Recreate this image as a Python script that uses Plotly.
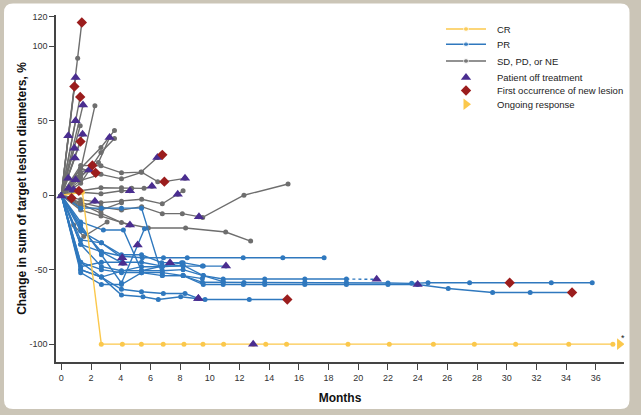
import plotly.graph_objects as go

# ---------------- data (months, % change) ----------------
cr_months = [0, 1.42, 2.69, 4.11, 5.39, 6.86, 8.26, 9.54, 10.93, 12.92, 13.77, 15.17,
             19.31, 22.09, 25.06, 27.82, 30.6, 34.18, 37.15]
cr_values = [0, 2, -100, -100, -100, -100, -100, -100, -100, -100, -100, -100,
             -100, -100, -100, -100, -100, -100, -100]
cr_off_idx = 9
ongoing_months = [37.6]
ongoing_values = [-100]

pr_months = [
    [0, 1.3, 2.7, 4.05, 5.4, 6.8, 8.2, 9.5, 10.9, 12.3, 13.7, 16.4, 19.2, 22.0, 23.6, 24.7, 27.5, 30.2, 33.0, 35.76],
    [0, 1.3, 2.7, 4.05, 5.4, 6.8, 8.2, 9.56, 10.9, 12.26, 13.7, 16.4, 19.2, 22.0, 24.0, 26.06, 29.05, 31.58, 34.4],
    [0, 1.3, 2.7, 4.05, 5.4, 6.8, 8.2, 9.56, 10.9, 13.7, 16.4, 19.2],
    [0, 1.3, 2.7, 4.1, 5.45, 6.88, 8.48, 12.25, 14.92, 17.7],
    [0, 1.3, 2.7, 4.15],
    [0, 1.3, 2.7, 4.1],
    [0, 1.3, 2.7, 4.05, 5.4, 6.8, 8.2, 9.56, 11.09],
    [0, 1.3, 2.7, 4.05, 5.4, 6.76, 7.32, 8.1],
    [0, 1.3, 2.7, 4.05, 5.5, 6.53, 8.04, 9.23, 9.68, 12.66, 15.22],
    [0, 1.3, 2.7, 4.05, 5.4, 6.87, 8.33, 9.23],
    [0, 1.3, 2.7, 4.05, 5.14, 5.6],
    [0, 1.3, 2.83, 4.18, 5.4, 6.8, 8.2, 9.56, 10.9],
    [0, 1.3, 2.7, 4.05, 5.4, 6.8, 8.2, 9.5],
    [0, 1.3, 2.7, 4.05, 5.4, 6.8, 8.2, 9.5],
]
pr_values = [
    [0, -8.7, -8.7, -8.7, -8.7, -54, -54, -58.5, -58.5, -58.7, -58.7, -58.7, -58.7, -59, -59.2, -58.8, -58.8, -58.8, -58.8, -58.8],
    [0, -45, -50, -52, -52, -54, -54, -60, -60, -60, -60, -60, -60, -60, -60, -62.6, -65.3, -65.3, -65.3],
    [0, -50, -55, -51, -48, -48, -47, -54, -56.3, -56.3, -56.3, -56.3],
    [0, -33, -38, -41, -42, -42, -42, -42, -42, -42],
    [0, -22, -38, -45.7],
    [0, -30, -32, -42],
    [0, -48, -45, -45, -45, -47.6, -47.6, -47.6, -47.6],
    [0, -24, -32, -40, -40, -45.3, -45.3, -45.3],
    [0, -45, -55, -67, -68.2, -70, -68.2, -69.3, -70, -70, -70],
    [0, -50, -55, -63.2, -64.8, -66, -66, -69.3],
    [0, -20, -40, -59, -33.5, -22.5],
    [0, -18, -23.4, -23.4, -50.7, -50.7, -50, -54, -58],
    [0, -52, -60, -60, -52, -52, -54, -56],
    [0, -33, -48, -50.7, -50.7, -47.6, -45.3, -47.6],
]
pr_off_idx = [None, 14, None, None, 3, 3, 8, 6, 7, 7, 4, None, None, None]
pr_lesion_idx = [17, 18, None, None, None, None, None, None, 10, None, None, None, None, None]
# unconfirmed follow-up (dotted) for one PR patient
pr_dotted_months = [19.2, 21.24]
pr_dotted_values = [-56.3, -56.5]

sd_months = [
    [0, 1.1, 1.38], [0, 0.96], [0, 0.88], [0, 1.27], [0, 1.46], [0, 1.25, 2.26],
    [0, 0.96], [0, 1.27], [0, 0.47], [0, 1.43], [0, 1.29], [0, 0.88], [0, 0.91],
    [0, 1.3, 2.67, 3.58], [0, 1.3, 2.67, 3.58], [0, 1.3, 2.5, 3.25],
    [0, 1.3, 2.09], [0, 1.3, 2.31], [0, 1.1, 1.87],
    [0, 1.3, 2.67, 4.05, 5.37, 6.47, 6.8],
    [0, 1.3, 2.67, 4.05, 5.41, 6.49, 6.94, 8.33],
    [0, 1.3, 2.67, 4.05, 4.74, 5.57, 6.1],
    [0, 1.3, 2.67, 4.05, 4.62],
    [0, 1.3, 2.67, 4.05, 5.41, 6.8, 7.84, 8.2],
    [0, 1.3, 2.67, 4.05, 5.41, 6.8, 8.15, 9.27, 9.52, 12.3, 15.27],
    [0, 1.3, 2.67, 4.05, 5.86, 8.37, 11.07, 12.75],
    [0, 1.3, 2.67, 4.62],
    [0, 0.83, 1.51, 3.08],
    [0, 1.3, 2.26], [0, 0.69], [0, 0.47], [0, 0.5], [0, 0.83], [0, 0.96], [0, 1.18],
    [0, 1.3, 2.67, 4.05],
]
sd_values = [
    [0, 92, 116], [0, 79], [0, 73], [0, 66], [0, 60.5], [0, 15, 60],
    [0, 50], [0, 46.6], [0, 40], [0, 41], [0, 36], [0, 31.6], [0, 25],
    [0, 18, 32, 43.5], [0, 8, 28.7, 38], [0, 15, 22, 38.8],
    [0, 12, 20], [0, 18, 15], [0, 12, 17],
    [0, 20, 19.7, 15, 15.5, 25.3, 27.1],
    [0, 10, 14, 11, 15.4, 9.1, 9.1, 11.3],
    [0, 3, 5, 5, 4.6, 4.6, 6],
    [0, 2, 1, 3, 3],
    [0, -3, -5, -4, -2.7, -5.8, 0.7, 3],
    [0, -5, -8, -10, -7.7, -12.4, -12.4, -14.4, -14.9, 0, 7.5],
    [0, -6, -12, -18.4, -22, -22, -24.7, -30.8],
    [0, -10, -14, -20],
    [0, -20, -27.8, -18],
    [0, -8, -4], [0, -2], [0, 11.4], [0, 4.7], [0, 3.6], [0, 10.3], [0, 2.9],
    [0, -7, -10, -5],
]
sd_off_idx = [None, 1, None, None, 1, None, 1, None, 1, 1, None, 1, 1,
              None, None, 3, None, None, 2, 5, 7, 6, 4, 6, 7, None, 3, None,
              2, None, 1, 1, 1, 1, None, None]
sd_lesion_idx = [2, None, 1, 1, None, None, None, None, None, None, 1, None, None,
                 None, None, None, 2, 2, None, 6, 6, None, None, None, None, None, None, None,
                 None, 1, None, None, None, None, 1, None]
origin_off_months = [0]
origin_off_values = [-0.5]

ref_lines = [20, 0, -30]
x_ticks = list(range(0, 37, 2))
y_ticks = [120, 100, 50, 0, -50, -100]

legend_labels = ["CR", "PR", "SD, PD, or NE", "Patient off treatment",
                 "First occurrence of new lesion", "Ongoing response"]

# ---------------- style ----------------
C_CR = "#fbc84c"
C_PR = "#2f78be"
C_SD = "#6e6e6e"
C_OFF = "#4a2d90"
C_LES = "#9b1d1d"
FONT = "Liberation Sans, Arial, sans-serif"

W, H = 641, 415
ml, mr, mt, mb = 56, 17, 15, 53
pw, ph = W - ml - mr, H - mt - mb

fig = go.Figure()

def add_lines(months, values, color):
    for m, v in zip(months, values):
        fig.add_trace(go.Scatter(
            x=m, y=v, mode="lines+markers",
            line=dict(color=color, width=1.4),
            marker=dict(color=color, size=5),
            showlegend=False, hoverinfo="skip"))

add_lines(sd_months, sd_values, C_SD)
add_lines(pr_months, pr_values, C_PR)
fig.add_trace(go.Scatter(x=pr_dotted_months, y=pr_dotted_values, mode="lines",
                         line=dict(color=C_PR, width=1.4, dash="dot"),
                         showlegend=False, hoverinfo="skip"))
add_lines([cr_months], [cr_values], C_CR)

# event markers collected from the series
off_x, off_y, les_x, les_y = list(origin_off_months), list(origin_off_values), [], []
for months, values, offs, less in ((sd_months, sd_values, sd_off_idx, sd_lesion_idx),
                                   (pr_months, pr_values, pr_off_idx, pr_lesion_idx)):
    for m, v, o, l in zip(months, values, offs, less):
        if o is not None:
            off_x.append(m[o]); off_y.append(v[o])
        if l is not None:
            les_x.append(m[l]); les_y.append(v[l])
off_x.append(cr_months[cr_off_idx]); off_y.append(cr_values[cr_off_idx])
off_x.append(pr_dotted_months[-1]); off_y.append(pr_dotted_values[-1])

MK_OFF = dict(symbol="triangle-up", size=9, color=C_OFF)
MK_LES = dict(symbol="diamond", size=8, color=C_LES)
MK_ONG = dict(symbol="triangle-right", size=10, color=C_CR)

fig.add_trace(go.Scatter(x=off_x, y=off_y, mode="markers", marker=MK_OFF,
                         showlegend=False, hoverinfo="skip"))
fig.add_trace(go.Scatter(x=les_x, y=les_y, mode="markers", marker=MK_LES,
                         showlegend=False, hoverinfo="skip"))
fig.add_trace(go.Scatter(x=ongoing_months, y=ongoing_values, mode="markers", marker=MK_ONG,
                         showlegend=False, hoverinfo="skip"))

for r in ref_lines:
    fig.add_hline(y=r, line=dict(color="#555555", width=1.3,
                                 dash="solid" if r == 0 else "8px,5px"), layer="below")

fig.add_annotation(x=ongoing_months[0] + 0.2, y=ongoing_values[0] + 4, text="*",
                   showarrow=False, font=dict(size=9, color="#222", family=FONT))

# ---- legend drawn on a pixel-scaled overlay axis ----
leg_rows = [29, 44.3, 61, 77.5, 90.5, 104.3]
leg_x0, leg_x1, leg_xm, leg_tx = 446, 486, 466, 495
for color, yy in zip([C_CR, C_PR, C_SD], leg_rows[:3]):
    fig.add_trace(go.Scatter(x=[leg_x0, leg_xm, leg_x1], y=[yy, yy, yy], xaxis="x2", yaxis="y2",
                             mode="lines+markers", line=dict(color=color, width=1.4),
                             marker=dict(color=color, size=[0, 5, 0]),
                             showlegend=False, hoverinfo="skip"))
for mk, yy in zip([MK_OFF, MK_LES, MK_ONG], leg_rows[3:]):
    fig.add_trace(go.Scatter(x=[leg_xm], y=[yy], xaxis="x2", yaxis="y2", mode="markers",
                             marker=mk, showlegend=False, hoverinfo="skip"))
for lab, yy in zip(legend_labels, leg_rows):
    fig.add_annotation(x=leg_tx, y=yy, xref="x2", yref="y2", text=lab, showarrow=False,
                       xanchor="left", yanchor="middle",
                       font=dict(size=9.5, family=FONT, color="#222"))

# white rounded panel on taupe frame
def px(xp): return (xp - ml) / pw
def py(yp): return (H - mb - yp) / ph
x0, x1, y0, y1 = px(4), px(629.5), py(409), py(3.5)
rx, ry = 9 / pw, 9 / ph
path = (f"M{x0+rx},{y0} L{x1-rx},{y0} Q{x1},{y0} {x1},{y0+ry} L{x1},{y1-ry} "
        f"Q{x1},{y1} {x1-rx},{y1} L{x0+rx},{y1} Q{x0},{y1} {x0},{y1-ry} "
        f"L{x0},{y0+ry} Q{x0},{y0} {x0+rx},{y0} Z")
fig.add_shape(type="path", xref="paper", yref="paper", path=path,
              fillcolor="white", line=dict(width=0), layer="below")

fig.update_layout(
    width=W, height=H,
    margin=dict(l=ml, r=mr, t=mt, b=mb, autoexpand=False),
    paper_bgcolor="#cbc5b7", plot_bgcolor="rgba(0,0,0,0)",
    font=dict(family=FONT, color="#222"),
    showlegend=False,
    xaxis=dict(range=[-0.36, 37.9], tickvals=x_ticks, ticks="outside", ticklen=6,
               tickcolor="#444", showline=True, linecolor="#444", linewidth=1.5,
               showgrid=False, zeroline=False, tickfont=dict(size=9, family=FONT, color="#333"),
               title=dict(text="<b>Months</b>", font=dict(size=12, family=FONT, color="#111"),
                          standoff=12)),
    yaxis=dict(range=[-112, 121], tickvals=y_ticks, ticktext=[str(t) for t in y_ticks],
               ticks="outside", ticklen=5,
               tickcolor="#444", showline=True, linecolor="#444", linewidth=1.5,
               showgrid=False, zeroline=False, tickfont=dict(size=9, family=FONT, color="#333"),
               title=dict(text="<b>Change in sum of target lesion diameters, %</b>",
                          font=dict(size=12, family=FONT, color="#111"), standoff=0)),
    xaxis2=dict(overlaying="x", range=[ml, ml + pw], visible=False, fixedrange=True),
    yaxis2=dict(overlaying="y", range=[H - mb, mt], visible=False, fixedrange=True),
)

fig.write_html("out.html", config={"displayModeBar": False},
               post_script="document.body.style.margin='0';document.body.style.background='#cbc5b7';")
